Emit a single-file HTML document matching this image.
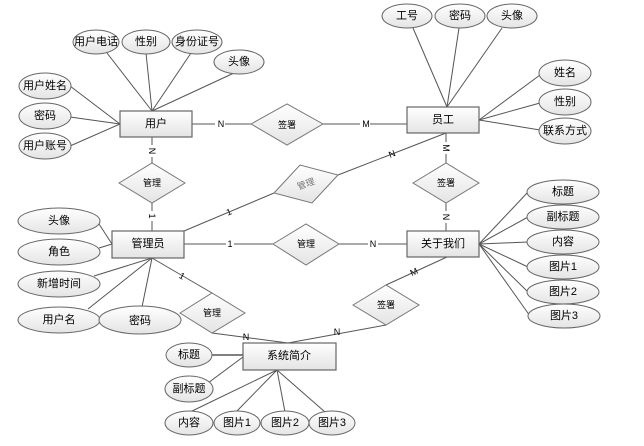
<!DOCTYPE html>
<html><head><meta charset="utf-8"><style>
html,body{margin:0;padding:0;background:#fff;}
svg text{font-family:"Liberation Sans","Noto Sans CJK SC",sans-serif;font-size:11px;fill:#000;text-anchor:middle;dominant-baseline:central;}
.s{font-size:9px;}
</style></head><body>
<svg width="644" height="441" viewBox="0 0 644 441" xmlns="http://www.w3.org/2000/svg">
<defs>
<linearGradient id="g" x1="0" y1="0" x2="0" y2="1"><stop offset="0" stop-color="#ffffff"/><stop offset="1" stop-color="#e4e4e4"/></linearGradient>
</defs>
<g stroke="#555" stroke-width="1" fill="none">
<!-- user attrs -->
<line x1="107" y1="53" x2="152" y2="111"/><line x1="146" y1="53" x2="152" y2="111"/><line x1="191" y1="53" x2="152" y2="111"/><line x1="234" y1="73" x2="152" y2="111"/>
<line x1="70" y1="86" x2="120" y2="124"/><line x1="70" y1="117" x2="120" y2="124"/><line x1="70" y1="146" x2="120" y2="124"/>
<!-- user-sign-employee -->
<line x1="192" y1="124" x2="251" y2="124"/><line x1="323" y1="124" x2="407" y2="124"/>
<!-- user-管理-admin -->
<line x1="152" y1="137" x2="152" y2="163"/><line x1="152" y1="203" x2="152" y2="231"/>
<!-- employee attrs -->
<line x1="413" y1="28" x2="447" y2="107"/><line x1="459" y1="28" x2="447" y2="107"/><line x1="502" y1="28" x2="447" y2="107"/>
<line x1="540" y1="75" x2="479" y2="120"/><line x1="540" y1="103" x2="479" y2="120"/><line x1="540" y1="130" x2="479" y2="120"/>
<!-- employee-签署-about -->
<line x1="446" y1="133" x2="446" y2="163"/><line x1="446" y1="203" x2="446" y2="231"/>
<!-- slanted -->
<line x1="184" y1="231" x2="274" y2="193"/><line x1="338" y1="175" x2="446" y2="133"/>
<!-- admin-about -->
<line x1="184" y1="244" x2="273" y2="244"/><line x1="339" y1="244" x2="407" y2="244"/>
<!-- about attrs -->
<line x1="528" y1="192" x2="479" y2="244"/><line x1="528" y1="217" x2="479" y2="244"/><line x1="528" y1="242" x2="479" y2="244"/><line x1="528" y1="267" x2="479" y2="244"/><line x1="528" y1="292" x2="479" y2="244"/><line x1="530" y1="316" x2="479" y2="244"/>
<!-- admin attrs -->
<line x1="99" y1="224" x2="112" y2="244"/><line x1="99" y1="248" x2="112" y2="244"/>
<line x1="94" y1="276" x2="152" y2="258"/><line x1="88" y1="309" x2="152" y2="258"/><line x1="142" y1="307" x2="152" y2="258"/>
<!-- admin-管理-system -->
<line x1="152" y1="258" x2="212" y2="293"/><line x1="212" y1="333" x2="288" y2="343"/>
<!-- about-签署-system -->
<line x1="447" y1="257" x2="386" y2="285"/><line x1="386" y1="325" x2="288" y2="343"/>
<!-- system attrs -->
<line x1="212" y1="355" x2="243" y2="355" stroke="#000"/><line x1="208" y1="383" x2="243" y2="357"/>
<line x1="190" y1="412" x2="277" y2="370"/><line x1="236" y1="412" x2="277" y2="370"/><line x1="285" y1="412" x2="277" y2="370"/><line x1="325" y1="412" x2="277" y2="370"/>
</g>
<!-- cardinality labels -->
<g>
<rect x="215" y="118" width="10" height="12" fill="#fff"/><text x="221" y="124" class="s">N</text>
<rect x="360" y="118" width="10" height="12" fill="#fff"/><text x="366" y="124" class="s">M</text>
<rect x="147" y="145" width="10" height="12" fill="#fff"/><text x="152" y="151" class="s" transform="rotate(90 152 151)">N</text>
<rect x="147" y="211" width="10" height="10" fill="#fff"/><text x="152" y="216" class="s" transform="rotate(90 152 216)">1</text>
<rect x="441" y="142" width="10" height="12" fill="#fff"/><text x="446" y="148" class="s" transform="rotate(90 446 148)">M</text>
<rect x="441" y="211" width="10" height="12" fill="#fff"/><text x="446" y="217" class="s" transform="rotate(90 446 217)">N</text>
<text x="229" y="212" class="s" transform="rotate(-22 229 212)">1</text>
<text x="392" y="154" class="s" transform="rotate(-22 392 154)">N</text>
<rect x="226" y="238" width="8" height="12" fill="#fff"/><text x="230" y="244" class="s">1</text>
<rect x="368" y="238" width="10" height="12" fill="#fff"/><text x="373" y="244" class="s">N</text>
<text x="182" y="276" class="s" transform="rotate(30 182 276)">1</text>
<text x="246" y="337" class="s">N</text>
<text x="337" y="332" class="s">N</text>
<text x="414" y="272" class="s" transform="rotate(-25 414 272)">M</text>
</g>
<!-- diamonds -->
<g fill="url(#g)" stroke="#777">
<polygon points="251,124 287,104 323,124 287,145"/>
<polygon points="119,183 152,163 185,183 152,203"/>
<polygon points="413,183 446,163 479,183 446,203"/>
<polygon points="274,193 300,165 338,175 312,203"/>
<polygon points="273,244 306,224 339,244 306,265"/>
<polygon points="180,313 212,293 245,313 212,333"/>
<polygon points="353,305 386,285 419,305 386,325"/>
</g>
<g class="s">
<text x="287" y="125" class="s">签署</text>
<text x="152" y="183" class="s">管理</text>
<text x="446" y="183" class="s">签署</text>
<text x="306" y="184" class="s" fill="#777" transform="rotate(-20 306 184)" style="fill:#777">管理</text>
<text x="306" y="244" class="s">管理</text>
<text x="212" y="313" class="s">管理</text>
<text x="386" y="305" class="s">签署</text>
</g>
<!-- entities -->
<g fill="url(#g)" stroke="#666" stroke-width="1.2">
<rect x="120" y="111" width="72" height="26"/>
<rect x="407" y="107" width="72" height="26"/>
<rect x="112" y="231" width="72" height="27"/>
<rect x="407" y="231" width="72" height="26"/>
<rect x="243" y="343" width="93" height="27"/>
</g>
<text x="156" y="124">用户</text>
<text x="443" y="120">员工</text>
<text x="148" y="244">管理员</text>
<text x="443" y="244">关于我们</text>
<text x="289" y="356">系统简介</text>
<!-- ellipses -->
<g fill="url(#g)" stroke="#666">
<ellipse cx="96" cy="42" rx="23" ry="12"/><ellipse cx="146" cy="42" rx="24" ry="12"/><ellipse cx="197" cy="42" rx="25" ry="12"/><ellipse cx="239" cy="62" rx="25" ry="12"/>
<ellipse cx="45" cy="86" rx="26" ry="13"/><ellipse cx="45" cy="116" rx="26" ry="13"/><ellipse cx="45" cy="146" rx="26" ry="13"/>
<ellipse cx="407" cy="16" rx="25" ry="12"/><ellipse cx="460" cy="16" rx="25" ry="12"/><ellipse cx="512" cy="16" rx="25" ry="12"/>
<ellipse cx="565" cy="73" rx="26" ry="13"/><ellipse cx="565" cy="102" rx="26" ry="13"/><ellipse cx="565" cy="131" rx="26" ry="13"/>
<ellipse cx="563" cy="192" rx="36" ry="12"/><ellipse cx="563" cy="217" rx="36" ry="12"/><ellipse cx="563" cy="242" rx="36" ry="12"/><ellipse cx="563" cy="267" rx="36" ry="12"/><ellipse cx="563" cy="292" rx="36" ry="12"/><ellipse cx="564" cy="316" rx="36" ry="12"/>
<ellipse cx="59" cy="221" rx="41" ry="13"/><ellipse cx="59" cy="252" rx="41" ry="13"/><ellipse cx="59" cy="284" rx="41" ry="13"/><ellipse cx="59" cy="320" rx="41" ry="13"/><ellipse cx="140" cy="320" rx="41" ry="14"/>
<ellipse cx="189" cy="355" rx="23" ry="12"/><ellipse cx="189" cy="389" rx="24" ry="13"/><ellipse cx="189" cy="423" rx="24" ry="12"/><ellipse cx="237" cy="423" rx="23" ry="12"/><ellipse cx="285" cy="423" rx="24" ry="12"/><ellipse cx="332" cy="423" rx="23" ry="12"/>
</g>
<g>
<text x="96" y="42">用户电话</text><text x="146" y="42">性别</text><text x="197" y="42">身份证号</text><text x="239" y="62">头像</text>
<text x="45" y="86">用户姓名</text><text x="45" y="116">密码</text><text x="45" y="146">用户账号</text>
<text x="407" y="16">工号</text><text x="460" y="16">密码</text><text x="512" y="16">头像</text>
<text x="565" y="73">姓名</text><text x="565" y="102">性别</text><text x="565" y="131">联系方式</text>
<text x="563" y="192">标题</text><text x="563" y="217">副标题</text><text x="563" y="242">内容</text><text x="563" y="267">图片1</text><text x="563" y="292">图片2</text><text x="564" y="316">图片3</text>
<text x="59" y="221">头像</text><text x="59" y="252">角色</text><text x="59" y="284">新增时间</text><text x="59" y="320">用户名</text><text x="140" y="321">密码</text>
<text x="189" y="355">标题</text><text x="189" y="389">副标题</text><text x="189" y="423">内容</text><text x="237" y="423">图片1</text><text x="285" y="423">图片2</text><text x="332" y="423">图片3</text>
</g>
</svg>
</body></html>
